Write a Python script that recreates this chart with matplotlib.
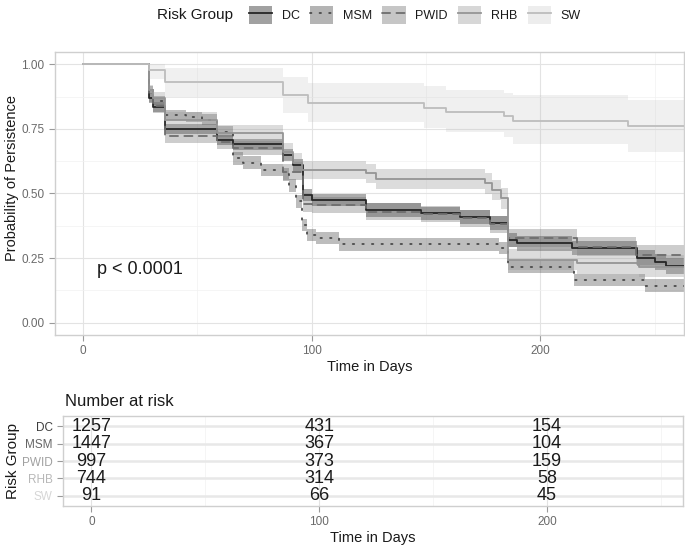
import numpy as np
import matplotlib
matplotlib.use('Agg')
import matplotlib.pyplot as plt
from matplotlib.patches import Patch
from matplotlib.lines import Line2D

plt.rcParams['font.family'] = ['Liberation Sans', 'DejaVu Sans']

# ---------------- data ----------------
groups = ['DC', 'MSM', 'PWID', 'RHB', 'SW']

dc_t  = [0, 29, 30.5, 36, 58.6, 65.7, 87.5, 92, 96.3, 100, 124, 148, 165, 178, 186, 190, 214, 242.5, 250, 255]
dc_s  = [1.0, 0.87, 0.836, 0.75, 0.707, 0.69, 0.649, 0.61, 0.494, 0.475, 0.436, 0.423, 0.41, 0.385, 0.32, 0.307, 0.288, 0.25, 0.235, 0.22]
dc_lo = [1.0, 0.85, 0.816, 0.73, 0.687, 0.67, 0.627, 0.587, 0.47, 0.45, 0.41, 0.397, 0.383, 0.357, 0.292, 0.279, 0.26, 0.22, 0.204, 0.188]
dc_hi = [1.0, 0.89, 0.856, 0.77, 0.727, 0.71, 0.671, 0.633, 0.518, 0.50, 0.462, 0.449, 0.437, 0.413, 0.348, 0.335, 0.316, 0.28, 0.266, 0.252]

msm_t  = [0, 29, 30.5, 36, 45, 52, 58.6, 65.7, 70, 78, 87.5, 90, 93, 96, 98, 102, 112, 182, 186, 215, 246]
msm_s  = [1.0, 0.90, 0.86, 0.804, 0.795, 0.785, 0.74, 0.636, 0.62, 0.59, 0.575, 0.53, 0.47, 0.378, 0.34, 0.327, 0.303, 0.288, 0.217, 0.165, 0.142]
msm_lo = [1.0, 0.885, 0.843, 0.784, 0.775, 0.764, 0.718, 0.612, 0.596, 0.566, 0.55, 0.505, 0.445, 0.354, 0.316, 0.303, 0.279, 0.264, 0.193, 0.14, 0.117]
msm_hi = [1.0, 0.915, 0.877, 0.824, 0.815, 0.806, 0.762, 0.66, 0.644, 0.614, 0.60, 0.555, 0.495, 0.402, 0.364, 0.351, 0.327, 0.312, 0.241, 0.19, 0.167]

pwid_t  = [0, 29, 30.5, 36, 58.6, 65.7, 87.5, 96.3, 100, 124, 148, 165, 178, 186, 216, 242]
pwid_s  = [1.0, 0.88, 0.84, 0.723, 0.70, 0.676, 0.584, 0.46, 0.455, 0.43, 0.42, 0.405, 0.38, 0.327, 0.294, 0.262]
pwid_lo = [1.0, 0.855, 0.81, 0.695, 0.672, 0.648, 0.552, 0.428, 0.423, 0.398, 0.388, 0.372, 0.347, 0.292, 0.258, 0.225]
pwid_hi = [1.0, 0.905, 0.87, 0.751, 0.728, 0.704, 0.616, 0.492, 0.487, 0.462, 0.452, 0.438, 0.413, 0.362, 0.33, 0.299]

rhb_t  = [0, 29, 30.5, 36, 58.6, 87.5, 92, 96, 124, 128, 176, 179, 183, 186, 216, 243]
rhb_s  = [1.0, 0.90, 0.87, 0.784, 0.733, 0.662, 0.62, 0.591, 0.578, 0.556, 0.539, 0.513, 0.481, 0.243, 0.23, 0.217]
rhb_lo = [1.0, 0.878, 0.845, 0.754, 0.701, 0.628, 0.585, 0.555, 0.541, 0.518, 0.5, 0.473, 0.44, 0.205, 0.19, 0.175]
rhb_hi = [1.0, 0.922, 0.895, 0.814, 0.765, 0.696, 0.655, 0.627, 0.615, 0.594, 0.578, 0.553, 0.522, 0.285, 0.272, 0.261]

sw_t  = [0, 29, 36, 87.5, 98.5, 149, 159, 184, 188, 238.5]
sw_s  = [1.0, 0.978, 0.93, 0.881, 0.849, 0.83, 0.817, 0.80, 0.782, 0.761]
sw_lo = [1.0, 0.945, 0.87, 0.81, 0.775, 0.755, 0.74, 0.72, 0.69, 0.662]
sw_hi = [1.0, 1.0, 0.985, 0.95, 0.928, 0.915, 0.90, 0.89, 0.88, 0.862]

risk_times = [0, 100, 200]
risk_dc = [1257, 431, 154]
risk_msm = [1447, 367, 104]
risk_pwid = [997, 373, 159]
risk_rhb = [744, 314, 58]
risk_sw = [91, 66, 45]

p_text = 'p < 0.0001'

# ---------------- style ----------------
line_colors = ['#262626', '#4a4a4a', '#6e6e6e', '#959595', '#bdbdbd']
label_colors = ['#3c3c3c', '#666666', '#a0a0a0', '#b8b8b8', '#d6d6d6']
styles = ['-', (0, (0.8, 4.5)), (0, (4.5, 3.5)), '-', '-']
fill_alphas = [0.38, 0.36, 0.34, 0.32, 0.22]

curves = [(dc_t, dc_s, dc_lo, dc_hi), (msm_t, msm_s, msm_lo, msm_hi),
          (pwid_t, pwid_s, pwid_lo, pwid_hi), (rhb_t, rhb_s, rhb_lo, rhb_hi),
          (sw_t, sw_s, sw_lo, sw_hi)]
risk = [risk_dc, risk_msm, risk_pwid, risk_rhb, risk_sw]

W, H = 685, 547
fig = plt.figure(figsize=(W / 100, H / 100), dpi=100)

border_c = '#cfcfcf'
major_c = '#e3e3e3'
minor_c = '#f1f1f1'
tick_c = '#6a6a6a'

def style_axes(ax):
    for sp in ax.spines.values():
        sp.set_color(border_c)
        sp.set_linewidth(1.0)
    ax.tick_params(which='major', length=4, color='#9a9a9a', labelcolor=tick_c, labelsize=8.5)
    ax.tick_params(which='minor', length=0)
    ax.grid(which='major', color=major_c, lw=0.8, zorder=0)
    ax.grid(which='minor', color=minor_c, lw=0.5, zorder=0)
    ax.set_axisbelow(True)

# ---------------- main plot ----------------
ax = fig.add_axes([55 / W, 1 - 335 / H, 629 / W, 283 / H])
xmax = 262.9
for i, (t, s, lo, hi) in enumerate(curves):
    tt = np.array(list(t) + [xmax + 10])
    ll = np.array(list(lo) + [lo[-1]])
    hh = np.array(list(hi) + [hi[-1]])
    ax.fill_between(tt, ll, hh, step='post', color=line_colors[i], alpha=fill_alphas[i], lw=0, zorder=2)
for i, (t, s, lo, hi) in enumerate(curves):
    tt = np.array(list(t) + [xmax + 10])
    ss = np.array(list(s) + [s[-1]])
    ax.step(tt, ss, where='post', color=line_colors[i], lw=1.3, linestyle=styles[i],
            dash_capstyle='round', zorder=3 + i)

ax.set_xlim(-12.25, xmax)
ax.set_ylim(-0.048, 1.048)
ax.set_xticks([0, 100, 200])
ax.set_xticks([50, 150, 250], minor=True)
ax.set_yticks([0, 0.25, 0.5, 0.75, 1.0])
ax.set_yticklabels(['0.00', '0.25', '0.50', '0.75', '1.00'])
ax.set_yticks([0.125, 0.375, 0.625, 0.875], minor=True)
style_axes(ax)
ax.set_xlabel('Time in Days', fontsize=10.5, color='#1a1a1a', labelpad=2)
ax.text(6, 0.204, p_text, fontsize=13, va='center', ha='left', color='#1a1a1a')
fig.text(12 / W, 1 - 178 / H, 'Probability of Persistence', rotation=90, fontsize=10.5,
         ha='center', va='center', color='#1a1a1a')

# ---------------- legend ----------------
handles = []
for i in range(5):
    handles.append((Patch(facecolor=line_colors[i], alpha=fill_alphas[i] + 0.05, edgecolor='none'),
                    Line2D([], [], color=line_colors[i], lw=1.3, linestyle=styles[i], dash_capstyle='round')))
leg = fig.legend(handles, groups, loc='center left', bbox_to_anchor=(249 / W, 1 - 15 / H),
                 ncol=5, frameon=False, fontsize=9, handlelength=1.85, handleheight=1.8,
                 handletextpad=0.8, columnspacing=0.8, borderpad=0, borderaxespad=0)
for txt in leg.get_texts():
    txt.set_color('#1a1a1a')
fig.text(157 / W, 1 - 15 / H, 'Risk Group', fontsize=11, ha='left', va='center', color='#1a1a1a')

# ---------------- risk table ----------------
ax2 = fig.add_axes([63 / W, 1 - 506 / H, 620 / W, 90 / H])
ypos = [5, 4, 3, 2, 1]
for i in range(5):
    for tm, n in zip(risk_times, risk[i]):
        ax2.text(tm, ypos[i], str(n), fontsize=13, ha='center', va='center', color='#1a1a1a')
ax2.set_xlim(-12.5, 259.8)
ax2.set_ylim(0.4, 5.6)
ax2.set_xticks([0, 100, 200])
ax2.set_xticks([50, 150, 250], minor=True)
ax2.set_yticks(ypos)
ax2.set_yticklabels(groups)
style_axes(ax2)
ax2.grid(which='major', axis='y', color='#e8e8e8', lw=1.8)
ax2.tick_params(axis='y', labelsize=8.5)
for lab, c in zip(ax2.get_yticklabels(), label_colors):
    lab.set_color(c)
ax2.set_xlabel('Time in Days', fontsize=10.5, color='#1a1a1a', labelpad=2)
fig.text(65 / W, 1 - 401 / H, 'Number at risk', fontsize=12, ha='left', va='center', color='#1a1a1a')
fig.text(13 / W, 1 - 461 / H, 'Risk Group', rotation=90, fontsize=11, ha='center', va='center', color='#1a1a1a')

fig.savefig('out.png', dpi=100)
